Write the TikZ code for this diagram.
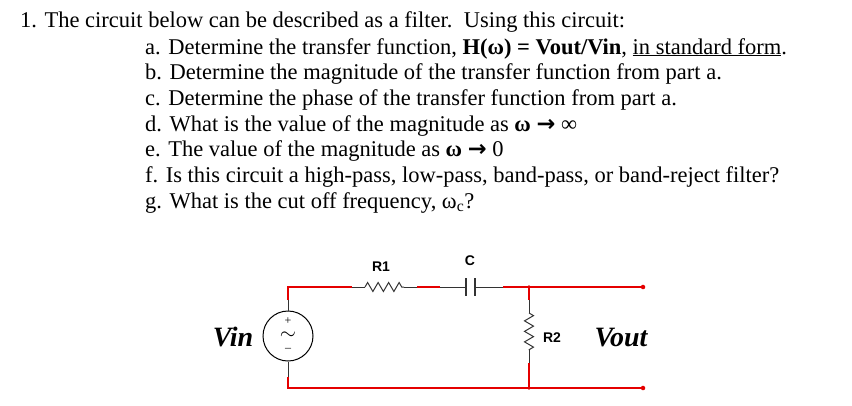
\documentclass[tikz,border=0pt]{standalone}
\usepackage{fontspec}
\setmainfont{Liberation Serif}
\newfontfamily\arialf{Liberation Sans}
\newfontfamily\djv{DejaVu Sans}
\usetikzlibrary{decorations.pathmorphing,calc}
\begin{document}
\begin{tikzpicture}[x=1pt,y=-1pt,
  txt/.style={anchor=base west,inner sep=0pt,font=\fontsize{22.5}{26}\selectfont},
  wire/.style={red!90!black,line width=1.4pt},
  lead/.style={black!80,line width=1pt},
  zz/.style={lead,decorate,decoration={zigzag,segment length=10.5pt,amplitude=4.5pt}},
  lbl/.style={inner sep=0pt,font=\arialf\bfseries\fontsize{14}{15}\selectfont},
  big/.style={inner sep=0pt,font=\bfseries\itshape\fontsize{28}{30}\selectfont},
  dot/.style={circle,fill=red!90!black,inner sep=1.6pt}]
\useasboundingbox (0,0) rectangle (852,405);
\newcommand\om{\textbf{ω}}
\newcommand\ar{{\djv\bfseries →}}
\node[txt] (t1) at (20,27) {1. The circuit below can be described as a filter.\ \ Using this circuit:};
\node[txt] (t2) at (145,54) {a. Determine the transfer function, \textbf{H(\om) = Vout/Vin}, \underline{in standard form}.};
\node[txt] (t3) at (145,79) {b. Determine the magnitude of the transfer function from part a.};
\node[txt] (t4) at (145,105) {c. Determine the phase of the transfer function from part a.};
\node[txt] (t5) at (145,131) {d. What is the value of the magnitude as \om\ \ar\ ∞};
\node[txt] (t6) at (145,156) {e. The value of the magnitude as \om\ \ar\ 0};
\node[txt] (t7) at (145,182) {f. Is this circuit a high-pass, low-pass, band-pass, or band-reject filter?};
\node[txt] (t8) at (145,208) {g. What is the cut off frequency, ω\textsubscript{c}?};
% circuit coordinates
\coordinate (tl) at (288,287);
\coordinate (bl) at (288,388);
\coordinate (s1) at (288,300);
\coordinate (s2) at (288,377);
\node[draw,circle,minimum size=50pt,inner sep=0pt,line width=1pt] (src) at (288,336) {};
\node[font=\fontsize{12}{12}\selectfont,inner sep=0pt] (pl) at (288,321) {+};
\node[font=\fontsize{12}{12}\selectfont,inner sep=0pt] (mi) at (288,350) {--};
\node[font=\fontsize{20}{20}\selectfont,inner sep=0pt] (tl2) at (288,336) {$\sim$};
\coordinate (r1a) at (352,287); \coordinate (r1b) at (365,287);
\coordinate (r1c) at (404,287); \coordinate (r1d) at (417,287);
\coordinate (ca) at (440,287); \coordinate (cp1) at (466,287);
\coordinate (cp2) at (475,287); \coordinate (cb) at (503,287);
\coordinate (nt) at (529,287); \coordinate (nb) at (529,388);
\node[dot] (ot) at (643,287) {}; \node[dot] (ob) at (643,388) {};
\node[dot,inner sep=1.3pt] (ntd) at (nt) {}; \node[dot,inner sep=1.3pt] (nbd) at (nb) {};
\coordinate (r2a) at (529,300); \coordinate (r2b) at (529,313);
\coordinate (r2c) at (529,350); \coordinate (r2d) at (529,363);
% wires
\draw[wire] (s1) -- (tl) -- (r1a);
\draw[wire] (r1d) -- (ca);
\draw[wire] (cb) -- (nt) -- (ot);
\draw[wire] (nt) -- (r2a);
\draw[wire] (r2d) -- (nb);
\draw[wire] (s2) -- (bl) -- (nb) -- (ob);
% leads
\draw[lead] (s1) -- (src.north);
\draw[lead] (src.south) -- (s2);
\draw[lead] (r1a) -- (r1b); \draw[zz] (r1b) -- (r1c); \draw[lead] (r1c) -- (r1d);
\draw[lead] (ca) -- (cp1); \draw[lead] (cp2) -- (cb);
\draw[lead,line width=1.4pt] ($(cp1)+(0,-9)$) -- ($(cp1)+(0,9)$);
\draw[lead,line width=1.4pt] ($(cp2)+(0,-9)$) -- ($(cp2)+(0,9)$);
\draw[lead] (r2a) -- (r2b); \draw[zz] (r2b) -- (r2c); \draw[lead] (r2c) -- (r2d);
% labels
\node[lbl] (lr1) at (381,267) {R1};
\node[lbl] (lc) at (470,261) {C};
\node[lbl] (lr2) at (552,338) {R2};
\node[big] (vin) at (233,337) {Vin};
\node[big] (vout) at (621,338) {Vout};
\end{tikzpicture}
\end{document}
